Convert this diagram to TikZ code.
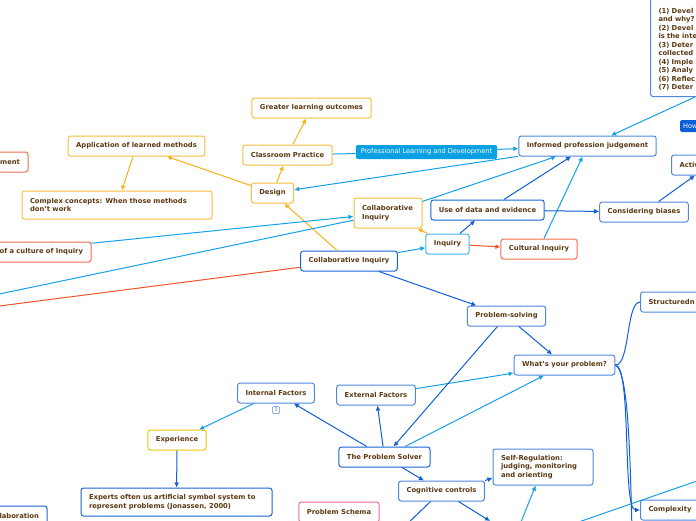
\documentclass[tikz,border=0pt]{standalone}
\usepackage{fontspec}
\setmainfont{DejaVu Sans}
\usetikzlibrary{arrows.meta}

\definecolor{txt}{RGB}{92,58,18}
\definecolor{orbox}{RGB}{246,190,60}
\definecolor{orline}{RGB}{247,178,20}
\definecolor{blbox}{RGB}{80,135,225}
\definecolor{dkbox}{RGB}{25,100,215}
\definecolor{dkline}{RGB}{14,94,214}
\definecolor{ltline}{RGB}{20,160,235}
\definecolor{ltbox}{RGB}{70,180,240}
\definecolor{rdbox}{RGB}{240,110,80}
\definecolor{rdline}{RGB}{240,85,40}
\definecolor{ylbox}{RGB}{235,200,0}
\definecolor{pkbox}{RGB}{240,100,160}
\definecolor{plfill}{RGB}{10,160,225}
\definecolor{hwfill}{RGB}{10,95,215}

\tikzset{
  box/.style={draw, rounded corners=2.5pt, fill=white, line width=1pt, text=txt,
    font=\bfseries\fontsize{6.8}{8.5}\selectfont, inner xsep=8pt, inner ysep=3pt,
    minimum height=20pt},
  ob/.style={box, draw=orbox},
  bb/.style={box, draw=blbox},
  db/.style={box, draw=dkbox},
  ib/.style={box, draw=ltbox},
  rb/.style={box, draw=rdbox},
  yb/.style={box, draw=ylbox},
  pb/.style={box, draw=pkbox},
  tag/.style={fill=#1, text=white, rounded corners=1.5pt, inner xsep=5pt, inner ysep=1pt,
    font=\fontsize{6.6}{8}\selectfont},
  lnk/.style={line width=1pt, -{Latex[length=5pt,width=5pt]}},
  ol/.style={lnk, draw=orline},
  lbl/.style={lnk, draw=ltline},
  dbl/.style={lnk, draw=dkline},
  rl/.style={lnk, draw=rdline},
}

\begin{document}
\begin{tikzpicture}[x=1pt, y=-1pt]
\useasboundingbox (0,0) rectangle (696,520);

\node[rb, text width=72pt, align=right] (eng) at (-16,162) {ment};
\node[rb, text width=155pt, align=right] (cul) at (5.5,252) {of a culture of Inquiry};
\node[db, text width=91pt, align=right] (col) at (-6.5,516) {laboration};

\node[ob] (app) at (136.5,146) {Application of learned methods};
\node[ob, text width=174pt, align=left, minimum height=28pt] (cpx) at (117,205)
  {Complex concepts: When those methods\\don't work};
\node[ob] (glo) at (311.5,108) {Greater learning outcomes};
\node[ob] (cp) at (287.5,155) {Classroom Practice};
\node[ob] (des) at (272.5,193) {Design};
\node[tag=plfill, minimum height=14pt] (pld) at (426.5,152) {Professional Learning and Development};
\node[bb] (inf) at (587.5,146) {Informed profession judgement};

\node[bb, anchor=south west, text width=140pt, align=left, text height=30pt, inner ysep=6pt]
  (steps) at (650,97)
  {(1) Devel\\and why?\\(2) Devel\\is the inte\\(3) Deter\\collected\\(4) Imple\\(5) Analy\\(6) Reflec\\(7) Deter};
\node[tag=hwfill, anchor=west, text width=24pt, inner xsep=3pt, minimum height=12pt] (how) at (680,126) {How};
\node[bb, anchor=west, text width=60pt, align=left] (act) at (671,165) {Activ};
\node[bb] (cb) at (644,212) {Considering biases};
\node[db] (ud) at (487.5,210) {Use of data and evidence};
\node[ob, text width=52pt, align=left, minimum height=30pt] (ci) at (388,213) {Collaborative\\Inquiry};
\node[ib] (inq) at (447.5,244) {Inquiry};
\node[rb] (cuin) at (539,249) {Cultural Inquiry};
\node[db] (cib) at (349,261) {Collaborative Inquiry};

\node[bb] (ps) at (506.5,316) {Problem-solving};
\node[bb] (wyp) at (564.5,365) {What's your problem?};
\node[bb, anchor=west, text width=60pt, align=left] (str) at (640,302) {Structuredn};
\node[bb, anchor=west] (cx) at (640,510) {Complexity};
\node[bb] (int) at (276,393) {Internal Factors};
\node[draw=blbox, rounded corners=1pt, line width=0.5pt, text=blbox, inner sep=1pt,
  minimum size=7pt, font=\fontsize{5}{6}\selectfont] (n3) at (276,410) {3};
\node[bb] (ext) at (376,395) {External Factors};
\node[yb] (exp) at (177,440) {Experience};
\node[db] (tps) at (384.5,457) {The Problem Solver};
\node[bb] (cc) at (441.5,491) {Cognitive controls};
\node[bb, text width=84pt, align=left, minimum height=36pt] (sr) at (543,467)
  {Self-Regulation:\\judging, monitoring\\and orienting};
\node[db, text width=175pt, align=left, minimum height=28pt] (xp) at (176.5,502)
  {Experts often us artificial symbol system to\\represent problems (Jonassen, 2000)};
\node[pb] (sch) at (339,512) {Problem Schema};

\coordinate (lo1) at (-20,298);
\coordinate (lo2) at (-20,308.5);
\coordinate (b1) at (405,526);
\coordinate (b2) at (490,521);
\coordinate (b3) at (517,532);
\coordinate (b4) at (570,525);
\coordinate (r1) at (710,476.5);
\coordinate (b5) at (632,530);

\draw[ol] (cp) -- (glo);
\draw[ol] (des) -- (cp);
\draw[ol] (des) -- (app);
\draw[ol] (app) -- (cpx);
\draw[ol] (cib) -- (des);
\draw[ol] (inq) -- (ci);

\draw[lbl, -] (cp) -- (pld);
\draw[lbl] (pld) -- (inf);
\draw[lbl] (inf) -- (des);
\draw[lbl] (ci) -- (inf);
\draw[lbl] (cuin) -- (inf);
\draw[lbl] ([xshift=45pt]steps.south west) -- ([xshift=23.5pt]inf.north);
\draw[lbl] (cul) -- (ci);
\draw[lbl, -] (lo1) -- (ci);
\draw[lbl] (cib) -- (inq);
\draw[lbl] (ext) -- (wyp);
\draw[lbl] (tps) -- (wyp);
\draw[lbl] (int) -- (exp);
\draw[lbl] (b3) -- (sr);
\draw[lbl, -] (b4) -- (r1);

\draw[dbl] (ud) -- (inf);
\draw[dbl] (cb) -- (act);
\draw[dbl] (ud) -- (cb);
\draw[dbl] (inq) -- (ud);
\draw[dbl] (cib) -- (ps);
\draw[dbl] (ps) -- (wyp);
\draw[dbl] (ps) -- (tps);
\draw[dbl] (tps) -- (ext);
\draw[dbl] (tps) -- (int);
\draw[dbl] (exp) -- (xp);
\draw[dbl] (tps) -- (cc);
\draw[dbl] (cc.north east) -- ([yshift=-11pt]sr.west);
\draw[dbl, -] (cc) -- (b1);
\draw[dbl] (cc) -- (b2);
\draw[dbl, -] (wyp.east) .. controls (630,366) and (626,302) .. (str.west);
\draw[dbl] (wyp.east) .. controls (632,366) and (622,510) .. (cx.west);
\draw[dbl, -] (wyp.east) .. controls (628,370) and (630,450) .. (b5);

\draw[rl, -] (cib) -- (lo2);
\draw[rl] (inq) -- (cuin);
\end{tikzpicture}
\end{document}
